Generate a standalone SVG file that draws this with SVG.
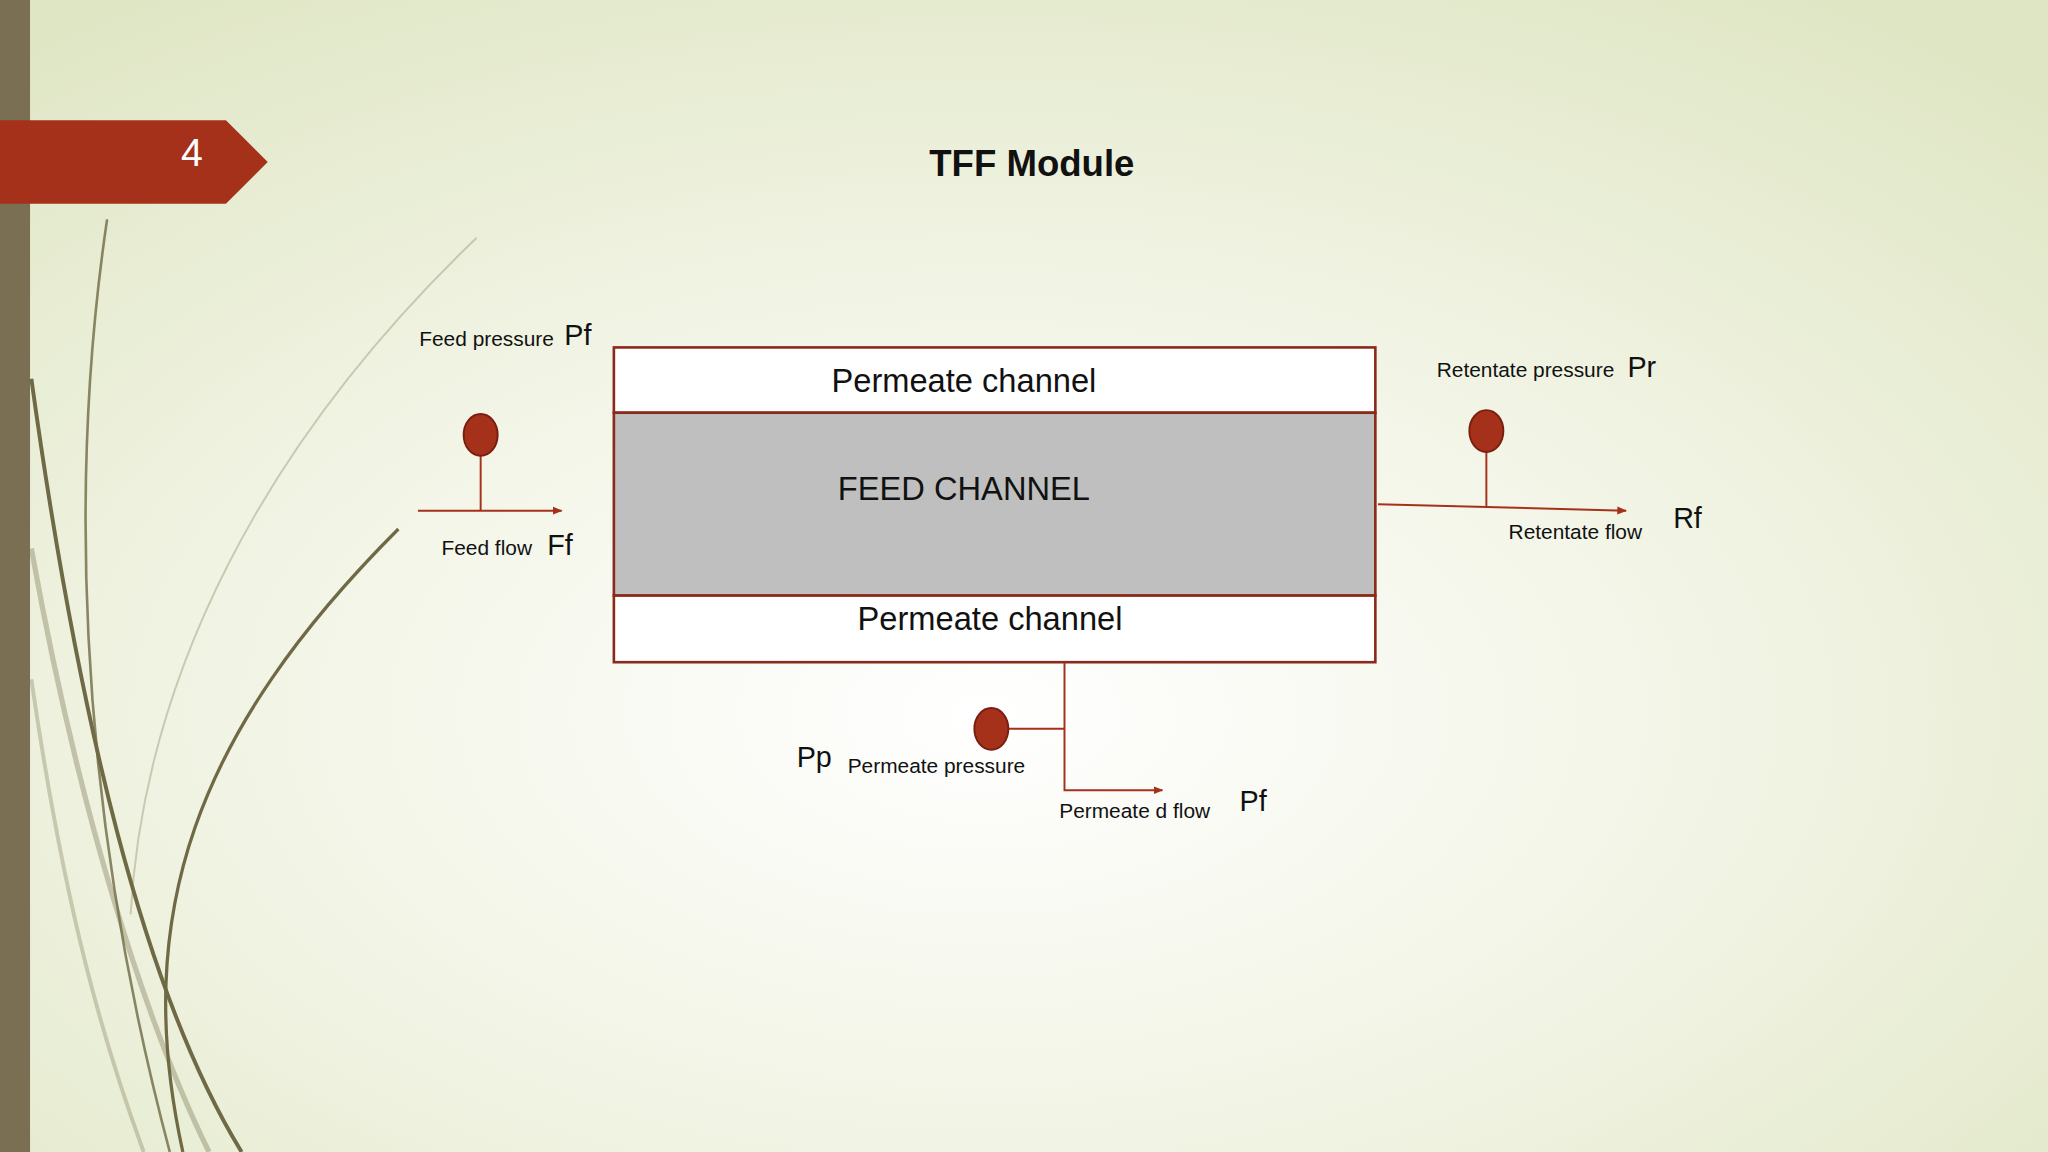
<svg xmlns="http://www.w3.org/2000/svg" width="2048" height="1152" viewBox="0 0 2048 1152">
<defs>
<radialGradient id="bg" cx="0.48" cy="0.62" r="0.75">
<stop offset="0" stop-color="#ffffff"/><stop offset="0.5" stop-color="#f1f4e4"/><stop offset="1" stop-color="#dfe6c4"/>
</radialGradient>
<marker id="ah" viewBox="0 0 10 10" refX="9" refY="5" markerWidth="5" markerHeight="5" orient="auto"><path d="M0,1 L10,5 L0,9 z" fill="#a5311b"/></marker>
<style>
.t{font-family:"Liberation Sans",Arial,sans-serif;fill:#111}
.box{stroke:#8b2a1a;stroke-width:2}
.ln{stroke:#a5311b;stroke-width:1.5;fill:none}
.dot{fill:#a5311b;stroke:#7a1f10;stroke-width:1.5}
.deco{fill:none;stroke:#6f6a45}
</style>
</defs>
<g transform="scale(1.30612)">
<rect width="1568" height="882" fill="url(#bg)"/>
<g id="decor">
<path class="deco" d="M82,168 C55,350 55,600 130,882" stroke-width="2" opacity="0.8"/>
<path class="deco" d="M24,290 C60,550 110,760 185,882" stroke-width="3"/>
<path class="deco" d="M24,420 C60,620 110,780 160,882" stroke-width="4" opacity="0.35"/>
<path class="deco" d="M24,520 C50,700 80,800 110,882" stroke-width="3" opacity="0.3"/>
<path class="deco" d="M305,405 C150,560 100,700 140,882" stroke-width="2.5"/>
<path class="deco" d="M365,182 C200,340 110,520 100,700" stroke-width="1.5" opacity="0.3"/>
</g>
<rect width="23" height="882" fill="#7a6f52"/>
<g id="tab">
<path d="M0,92 H173 L205,124 L173,156 H0 Z" fill="#a5311b"/>
<text class="t" x="147" y="127" font-size="30" fill="#fff" style="fill:#fff" text-anchor="middle">4</text>
</g>
<text class="t" x="790" y="135" font-size="28" font-weight="bold" text-anchor="middle">TFF Module</text>
<g id="top">
<rect class="box" x="470" y="266" width="583" height="50" fill="#fff"/>
<text class="t" x="738" y="300" font-size="25" text-anchor="middle">Permeate channel</text>
</g>
<g id="feed">
<rect class="box" x="470" y="316" width="583" height="140" fill="#bfbfbf"/>
<text class="t" x="738" y="383" font-size="25" text-anchor="middle">FEED CHANNEL</text>
</g>
<g id="bottom">
<rect class="box" x="470" y="456" width="583" height="51" fill="#fff"/>
<text class="t" x="758" y="482" font-size="25" text-anchor="middle">Permeate channel</text>
</g>
<g id="connectors">
<line class="ln" x1="320" y1="391" x2="430" y2="391" marker-end="url(#ah)"/>
<line class="ln" x1="368" y1="340" x2="368" y2="391"/>
<line class="ln" x1="1055" y1="386" x2="1245" y2="391" marker-end="url(#ah)"/>
<line class="ln" x1="1138" y1="338" x2="1138" y2="388"/>
<polyline class="ln" points="815,507 815,605 890,605" marker-end="url(#ah)"/>
<line class="ln" x1="772" y1="558" x2="815" y2="558"/>
</g>
<g id="feed-gauge">
<ellipse class="dot" cx="368" cy="333" rx="13" ry="16"/>
<text class="t" x="321" y="265" font-size="16">Feed pressure</text>
<text class="t" x="432" y="264" font-size="22">Pf</text>
<text class="t" x="338" y="425" font-size="16">Feed flow</text>
<text class="t" x="419" y="425" font-size="22">Ff</text>
</g>
<g id="ret-gauge">
<ellipse class="dot" cx="1138" cy="330" rx="13" ry="16"/>
<text class="t" x="1100" y="289" font-size="16">Retentate pressure</text>
<text class="t" x="1246" y="289" font-size="22">Pr</text>
<text class="t" x="1155" y="413" font-size="16">Retentate flow</text>
<text class="t" x="1281" y="404" font-size="22">Rf</text>
</g>
<g id="perm-gauge">
<ellipse class="dot" cx="759" cy="558" rx="13" ry="16"/>
<text class="t" x="610" y="587" font-size="22">Pp</text>
<text class="t" x="649" y="592" font-size="16">Permeate pressure</text>
<text class="t" x="811" y="626" font-size="16">Permeate d flow</text>
<text class="t" x="949" y="621" font-size="22">Pf</text>
</g>
</g>
</svg>
